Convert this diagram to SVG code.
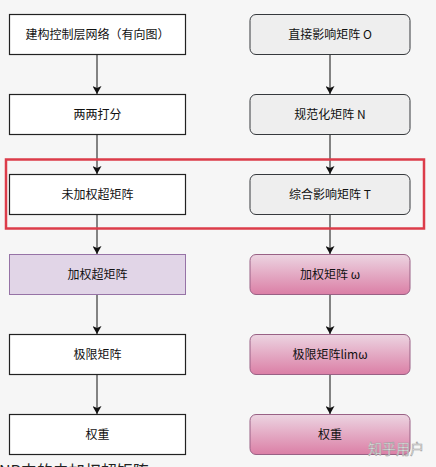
<svg xmlns="http://www.w3.org/2000/svg" width="436" height="467" viewBox="0 0 436 467">
<defs>
<style>
.t{font-family:"Noto Sans CJK SC","Liberation Sans",sans-serif;font-size:12px;fill:#111;text-anchor:middle}
.w{fill:#fff;stroke:#222;stroke-width:1.2}
.g{fill:#eeeeee;stroke:#36393d;stroke-width:1}
.p{fill:url(#pink);stroke:#996185;stroke-width:1}
.v{fill:#e1d5e7;stroke:#9673a6;stroke-width:1}
.c{stroke:#111;stroke-width:1;fill:none;marker-end:url(#ah)}
</style>
<linearGradient id="pink" x1="0" y1="0" x2="0" y2="1">
<stop offset="0" stop-color="#ecd4e1"/>
<stop offset="1" stop-color="#db7fa6"/>
</linearGradient>
<marker id="ah" markerWidth="9" markerHeight="9" refX="8" refY="4.5" orient="auto" markerUnits="userSpaceOnUse">
<path d="M0,0 L8,4.5 L0,9 L2,4.5 Z" fill="#111"/>
</marker>
</defs>
<rect width="436" height="467" fill="#f6f6f6"/>
<g id="connectors">
<line class="c" x1="97" y1="54" x2="97" y2="94"/>
<line class="c" x1="97" y1="134" x2="97" y2="174"/>
<line class="c" x1="97" y1="214" x2="97" y2="254"/>
<line class="c" x1="97" y1="294" x2="97" y2="334"/>
<line class="c" x1="97" y1="374" x2="97" y2="414"/>
<line class="c" x1="330" y1="54" x2="330" y2="94"/>
<line class="c" x1="330" y1="134" x2="330" y2="174"/>
<line class="c" x1="330" y1="214" x2="330" y2="254"/>
<line class="c" x1="330" y1="294" x2="330" y2="334"/>
<line class="c" x1="330" y1="374" x2="330" y2="414"/>
</g>
<g id="n1"><rect class="w" x="9.5" y="14.5" width="176" height="40"/><text class="t" x="97.5" y="38.5">建构控制层网络（有向图）</text></g>
<g id="n2"><rect class="w" x="9.5" y="94.5" width="176" height="40"/><text class="t" x="97.5" y="118.5">两两打分</text></g>
<g id="n3"><rect class="w" x="9.5" y="174.5" width="176" height="40"/><text class="t" x="97.5" y="198.5">未加权超矩阵</text></g>
<g id="n4"><rect class="v" x="9.5" y="254.5" width="176" height="40"/><text class="t" x="97.5" y="278.5">加权超矩阵</text></g>
<g id="n5"><rect class="w" x="9.5" y="334.5" width="176" height="40"/><text class="t" x="97.5" y="358.5">极限矩阵</text></g>
<g id="n6"><rect class="w" x="9.5" y="414.5" width="176" height="40"/><text class="t" x="97.5" y="438.5">权重</text></g>
<g id="m1"><rect class="g" x="250" y="14.5" width="160" height="40" rx="6"/><text class="t" x="330" y="38.5">直接影响矩阵 O</text></g>
<g id="m2"><rect class="g" x="250" y="94.5" width="160" height="40" rx="6"/><text class="t" x="330" y="118.5">规范化矩阵 N</text></g>
<g id="m3"><rect class="g" x="250" y="174.5" width="160" height="40" rx="6"/><text class="t" x="330" y="198.5">综合影响矩阵 T</text></g>
<g id="m4"><rect class="p" x="250" y="254.5" width="160" height="40" rx="6"/><text class="t" x="330" y="278.5">加权矩阵 ω</text></g>
<g id="m5"><rect class="p" x="250" y="334.5" width="160" height="40" rx="6"/><text class="t" x="330" y="358.5">极限矩阵limω</text></g>
<g id="m6"><rect class="p" x="250" y="414.5" width="160" height="40" rx="6"/><text class="t" x="330" y="438.5">权重</text></g>
<g id="highlight"><rect x="6" y="159.5" width="418" height="69" fill="none" stroke="#dc3c4a" stroke-width="2.5"/></g>
<text x="368" y="454" font-family="Noto Sans CJK SC,sans-serif" font-size="14" fill="#fff" stroke="#a0a0a0" stroke-width="0.6">知乎用户</text>
<text x="-1" y="477" font-family="Noto Sans CJK SC,sans-serif" font-size="16" fill="#222">NP中的未加权超矩阵</text>
</svg>
